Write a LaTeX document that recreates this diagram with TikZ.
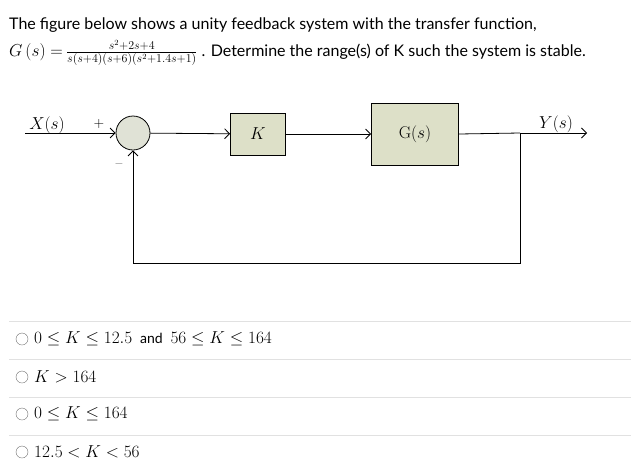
\documentclass[tikz,border=0pt]{standalone}
\usepackage{fontspec}
\newfontfamily\lato{Lato}
\usetikzlibrary{arrows.meta}
\begin{document}
\begin{tikzpicture}[x=1pt,y=-1pt,
  blk/.style={draw,thick,fill={rgb,255:red,221;green,224;blue,200},inner sep=0},
  wire/.style={thick},
  arr/.style={thick,-{Straight Barb[length=5pt,width=10pt]}},
  txt/.style={anchor=west,inner sep=0,font=\lato\fontsize{16.5pt}{18pt}\selectfont},
  sep/.style={draw={rgb,255:red,225;green,225;blue,225},thin},
  radio/.style={draw={rgb,255:red,110;green,110;blue,110},circle,minimum size=12pt,inner sep=0}]
\useasboundingbox (0,0) rectangle (631,469);
\node[txt,font=\lato\fontsize{16pt}{18pt}\selectfont] (t1) at (9,25) {The figure below shows a unity feedback system with the transfer function,};
\node[txt,font=\lato\fontsize{16pt}{18pt}\selectfont] (t2) at (9,53) {\fontsize{19pt}{21pt}\selectfont$G\left(s\right)=$\,\fontsize{16.5pt}{18pt}\selectfont$\frac{s^2+2s+4}{s(s+4)(s+6)(s^2+1.4s+1)}$\fontsize{16pt}{18pt}\selectfont\ . Determine the range(s) of K such the system is stable.};
% diagram
\node[draw,thick,circle,fill={rgb,255:red,224;green,226;blue,214},minimum size=34pt,inner sep=0] (sum) at (133,133) {};
\node[blk,minimum width=55pt,minimum height=42pt] (K) at (258,134) {\fontsize{17pt}{19pt}\selectfont$K$};
\node[blk,minimum width=87pt,minimum height=62pt] (G) at (415,134) {\fontsize{17pt}{19pt}\selectfont G($s$)};
\coordinate (xin) at (25,133);
\coordinate (br) at (520,133);
\coordinate (yout) at (587,133);
\coordinate (bl) at (520,263);
\coordinate (bll) at (133,263);
\node[inner sep=0,font=\fontsize{17pt}{19pt}\selectfont] (xl) at (47,125) {$X$($s$)};
\node[inner sep=0,font=\fontsize{17pt}{19pt}\selectfont] (yl) at (556,124) {$Y$($s$)};
\node[inner sep=0,font=\fontsize{14pt}{16pt}\selectfont] (pl) at (99,124) {+};
\node[inner sep=0,font=\fontsize{14pt}{16pt}\selectfont] (ml) at (119,166) {--};
\draw[arr] (xin) -- (sum);
\draw[arr] (sum) -- (K);
\draw[arr] (K) -- (G);
\draw[wire] (G.east) -- (br);
\draw[arr] (br) -- (yout);
\draw[wire] (br) -- (bl) -- (bll);
\draw[arr] (bll) -- (sum.south);
% options
\foreach \y in {321,359,397,435} \draw[sep] (9,\y) -- (631,\y);
\node[radio] (r1) at (22,339) {};
\node[radio] (r2) at (22,377) {};
\node[radio] (r3) at (22,414) {};
\node[radio] (r4) at (22,452) {};
\node[txt] (o1) at (34,339) {$0\le K\le 12.5$ {\fontsize{14pt}{16pt}\selectfont\ and\ } $56\le K\le 164$};
\node[txt] (o2) at (34,377) {$K>164$};
\node[txt] (o3) at (34,414) {$0\le K\le 164$};
\node[txt] (o4) at (34,452) {$12.5<K<56$};
\end{tikzpicture}
\end{document}
